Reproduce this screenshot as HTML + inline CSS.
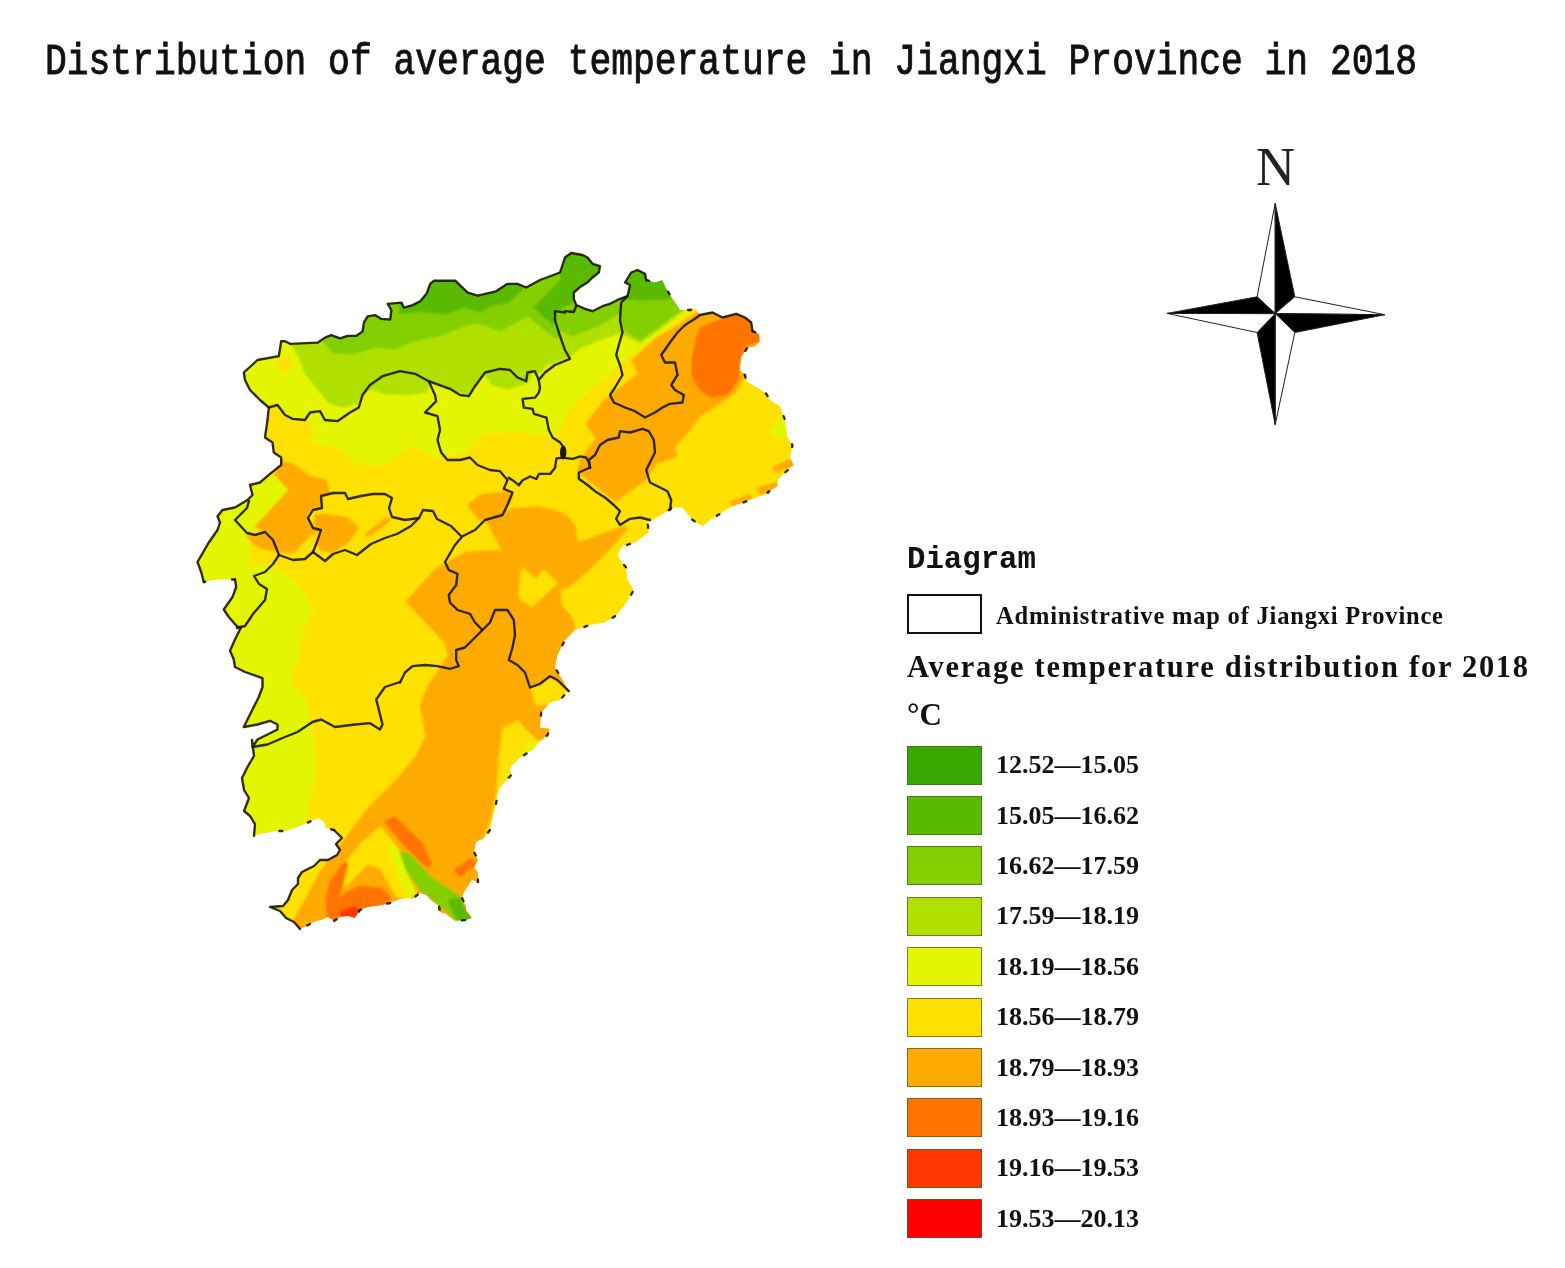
<!DOCTYPE html>
<html lang="en">
<head>
<meta charset="utf-8">
<title>Distribution of average temperature in Jiangxi Province in 2018</title>
<style>
html,body{margin:0;padding:0;background:#fff;}
body{width:1565px;height:1268px;position:relative;overflow:hidden;font-family:"Liberation Serif",serif;color:#111;}
#map{position:absolute;left:0;top:0;}
.title{position:absolute;left:45px;top:36.7px;font-family:"Liberation Mono",monospace;font-size:44px;line-height:50px;
 white-space:pre;transform-origin:0 0;transform:scaleX(0.8248);font-weight:normal;-webkit-text-stroke:0.95px #111;color:#111;}
.n{position:absolute;left:1256px;top:137px;font-size:54px;line-height:60px;font-family:"Liberation Serif",serif;color:#222;}
.diag{position:absolute;left:907px;top:541.5px;font-family:"Liberation Mono",monospace;font-weight:bold;font-size:31px;
 line-height:36px;white-space:pre;transform-origin:0 0;transform:scaleX(0.99);}
.adm{position:absolute;left:907px;top:594px;width:71px;height:36px;border:2px solid #111;background:#fff;}
.admt{position:absolute;left:996px;top:601.3px;font-weight:bold;font-size:24.5px;line-height:30px;white-space:pre;letter-spacing:0.8px;}
.avg{position:absolute;left:907px;top:648px;font-weight:bold;font-size:30.5px;line-height:38px;white-space:pre;letter-spacing:1.72px;}
.degc{position:absolute;left:907px;top:696px;font-weight:bold;font-size:31px;line-height:38px;white-space:pre;}
.sw{position:absolute;left:907px;width:73px;height:37px;border:1px solid rgba(90,90,40,.75);}
.lab{position:absolute;left:996px;font-weight:bold;font-size:26px;line-height:32px;white-space:pre;}
</style>
</head>
<body>
<div class="title">Distribution of average temperature in Jiangxi Province in 2018</div>
<svg id="map" width="1565" height="1268" viewBox="0 0 1565 1268">
<defs><clipPath id="prov"><polygon points="300,929 294,922 286,918 280,911 270,907 283,906 288,900 292,890 298,884 298,878 302,872 314,866 320,860 328,860 337,855 340,850 336,844 342,838 334,830 326,828 324,822 318,818 300,826 286,831 276,831 260,834 254,836 255,824 250,816 244,811 249,798 244,790 242,778 248,766 254,756 252,740 252.5,747 257.5,739.5 267.5,734.5 277.5,729.5 277.5,724.5 270,720.8 257.5,724.5 243.8,727 252.5,709.5 258.8,697 262.5,687 262.5,678.2 245,672 235,667 233.8,659.5 230,650.8 235,639.5 241.2,627 237.5,627 228.8,617 223.8,609.5 232.5,597 236.2,587 235,579.5 217.5,579.5 203.8,582 201.2,572 197.5,562 203.8,551.2 208.8,542.5 217.5,530 220,522.5 217.5,516.2 222.5,510 235,507.5 247.5,500 252.5,495 250,485 260,482.5 270,473.8 281.2,465 281.2,457.5 273.8,452.5 272.5,442.5 265,437.5 267.5,420 268.8,407.5 260,400 250,390 245,380 243.8,372.5 257.5,360 278.8,356.2 281.2,341.2 285,341.2 290,343.8 317.5,342.7 325,337.6 331.3,335.1 340.1,338.3 347.6,335.8 356.4,335.8 362.6,331.4 363.9,322.6 367.6,316.4 375.1,315.1 381.4,318.9 390.2,319.5 391.4,310.1 387.7,303.8 401.4,302.6 403.9,307.6 412.7,305.1 420.2,301.3 426.5,293.8 430.2,283.8 434,280.7 455.3,280.7 461.6,286.9 467.8,292.6 477.8,295.7 496,291.3 507.5,283.8 517.5,283.8 526.2,287.5 540,280 560,272.5 565,257.5 571.2,253 582.5,255 587.5,257.5 592.5,263.8 600,266.2 598.8,272.5 592.5,277.5 587.5,282.5 581.2,286.2 573.8,292.5 573.8,298.8 576.2,305 585,308.8 592.5,311.2 602.5,306.2 610,303.8 620,298.8 627.5,296.2 630,285 625,282.5 631.2,272.5 637.5,270 645,273.8 646.2,280 655,282.5 662.5,280 665,286.2 670,295 676.2,303.8 680,310 690,310 695,308.8 700,315 712.5,312.5 722.5,317.5 736.2,313.8 745,317.5 751.2,322.5 752.5,331.2 752.5,331.2 758.8,333.8 760,341.2 755,346.2 747.5,347.5 741.2,357.5 740,370 745,375 746.2,381.2 757.5,387.5 766.2,393.8 770,400 780,406.2 785,420 787.5,437.5 792.5,445 790,457.5 793.8,465 785,472.5 777.5,480 777.5,486.2 767.5,492.5 770,492.5 750,500 730,507.5 710,520 702.5,526.2 692.5,520 682.5,507.5 672.5,507.5 665,512.5 655,518.8 647.5,522.5 648.8,532.5 635,542.5 622.5,546.2 617.5,555 620,560 626.2,567.5 627.5,580 633.8,590 625,605 615,616.2 605,622.5 590,625 575,630 565,640 557.5,655 555,667.5 562.5,680 568.8,690 560,700 550,702.5 541.2,712.5 540,727.5 550,728.8 547.5,735 538.8,742.5 532.5,750 520,757.5 510,767.5 511.2,775 500,787.5 498,792 496,804 492,820 490,830 484,838 476,842 474,852 478,860 474,868 478,872 478,882 472,880 464,892 462,898 466,906 466,910 472,918 466,920 455,921 446,914 440,912 439,906 432,901 426,895 420,893 412,899 406,898 400,899 390,903 382,905 376,906 368,907 360,910 355,918 348,916 340,917 334,921 328,917 322,920 316,921 308,925 300,929"/></clipPath><filter id="bl" x="-5%" y="-5%" width="110%" height="110%"><feGaussianBlur stdDeviation="1.3"/></filter><filter id="bl2" x="-5%" y="-5%" width="110%" height="110%"><feGaussianBlur stdDeviation="0.45"/></filter></defs>
<g clip-path="url(#prov)"><g filter="url(#bl)" stroke-linejoin="round">
<rect x="100" y="170" width="800" height="840" fill="#FFE100"/>
<polygon fill="#E4F500" stroke="#E4F500" stroke-width="1" points="245,403 275,405 289,417 305,419 313,425 313,443 337,447 357,463 385,465 411,445 435,457 465,453 484,433 520,431 556,437 568,411 588,391 608,375 634,353 644,345 662,333 692,309 900,100 100,100 100,200"/>
<polygon fill="#E4F500" stroke="#E4F500" stroke-width="1" points="289,488 276,476 245,486 165,500 165,640 220,832 300,832 306,820 310,800 316,770 314,740 306,700 290,680 297,660 303,632 313,608 297,584 277,568 251,564 247,534 255,528 271,508"/>
<polygon fill="#B0E000" stroke="#B0E000" stroke-width="1" points="289,341 299,357 305,373 317,389 329,403 343,407 359,403 365,393 371,389 385,394 405,395 427,392 430,383 450,389 468,395 476,385 484,373 492,385 508,389 528,383 532,373 540,373 546,365 560,361 572,355 580,348 600,340 620,333 640,343 660,329 686,309 900,100 100,100 100,200"/>
<polygon fill="#83CF00" stroke="#83CF00" stroke-width="1" points="321,339 333,353 355,354 375,347 395,349 415,341 441,335 465,326 476,323 484,325 500,331 528,316 546,331 557,339 560,330 572,336 600,325 620,313 623,329 640,340 660,326 682,309 900,100 100,100 100,200"/>
<polygon fill="#5ABA00" stroke="#5ABA00" stroke-width="1" points="400,265 400,314 420,311 446,314 464,307 480,312 492,305 508,303 524,288 524,265"/>
<polygon fill="#5ABA00" stroke="#5ABA00" stroke-width="1" points="534,307 546,295 560,281 562,265 566,249 586,249 606,265 592,283 576,295 572,303 556,311 554,325 544,317"/>
<polygon fill="#5ABA00" stroke="#5ABA00" stroke-width="1" points="620,299 620,281 638,265 668,275 674,295 668,299 640,300"/>
<polygon fill="#FFAA00" stroke="#FFAA00" stroke-width="1" points="281.4,461.3 292.7,463.8 310.2,476.3 326.5,480.1 329,492.6 321.5,495.1 322.8,507.6 311.5,510.1 307.7,517.6 312.7,527.7 321.5,530.2 310.2,535.2 294,552.7 280.2,552.7 272.7,540.2 265.2,532.7 255.1,526.4 288.9,490.1 274.5,474.4"/>
<polygon fill="#FFAA00" stroke="#FFAA00" stroke-width="1" points="315.2,515.1 322.8,513.9 347.8,517.6 359.1,527.7 347.8,542.7 332.8,552.7 320.3,550.2 316.5,540.2 321.5,530.2 314,527.7"/>
<polygon fill="#FFAA00" stroke="#FFAA00" stroke-width="1" points="246.4,535.2 255.1,537.1 265.2,533.3 272.7,540.2 277,551.5 271.4,550.2 261.4,548.3 252.6,543.3"/>
<polygon fill="#FFAA00" stroke="#FFAA00" stroke-width="1" points="365,534 387,517 391,520 369,537"/>
<polygon fill="#FFAA00" stroke="#FFAA00" stroke-width="1" points="480,495 508.8,491.3 512.6,497.5 505,510.1 496.3,516.3 480,521.3 467.5,505"/>
<polygon fill="#FFAA00" stroke="#FFAA00" stroke-width="1" points="700,310 680,324 656,338 632,360 638,374 620,388 604,400 586,424 596,438 580,460 578,472 588,480 616,502 626,494 646,480 656,464 678,456 674,448 692,428 700,416 720,404 736,392 764,340 760,310"/>
<polygon fill="#FFAA00" stroke="#FFAA00" stroke-width="1" points="486.3,521.3 511.3,508.8 536.4,506.9 555.1,510.1 567.7,516.3 575.2,526.3 577.7,542.6 599,535.1 624,526.3 627.8,528.8 605.2,553.9 587.7,571.4 567.7,587.7 560.2,590.2 561.4,605.2 572.7,617.8 575.2,627.8 570.2,638 605.2,642.8 600,705 550,737.5 538.8,741.2 517.5,720 502,728 498,760 496,792 490,820 484,836 490,940 280,940 294,920 320,872 344,840 368,808 396,780 416,756 426,736 420,706 428,686 428,686 448,656 446,644 406,602 434,570 466,552 502,550"/>
<polygon fill="#FFE100" stroke="#FFE100" stroke-width="1" points="518.8,595.2 521.3,570.2 523.8,568.3 535.1,578.9 543.9,570.2 557.6,582.7 532.6,606.5 521.3,600.2"/>
<polygon fill="#FFAA00" stroke="#FFAA00" stroke-width="1" points="772,468 792,458 794,466 776,472"/>
<polygon fill="#FFAA00" stroke="#FFAA00" stroke-width="1" points="756,488 778,482 778,490 760,494"/>
<polygon fill="#FFAA00" stroke="#FFAA00" stroke-width="1" points="730,502 750,494 752,498 734,506"/>
<polygon fill="#E4F500" stroke="#E4F500" stroke-width="1" points="770,432 776,420 786,418 788,436 778,440"/>
<polygon fill="#FF7300" stroke="#FF7300" stroke-width="1" points="700,328 712,323 736,314 752,318 752,332 762,334 758,342 746,346 740,360 738,380 728,394 712,398 700,390 692,376 692,360 696,340"/>
<polygon fill="#FFE100" stroke="#FFE100" stroke-width="1" points="280,912 300,880 320,866 306,896 292,920"/>
<polygon fill="#FFE100" stroke="#FFE100" stroke-width="1" points="348,860 360,844 380,827 392,840 400,852 406,872 414,892 408,900 396,896 380,868 368,864 344,888 341,880"/>
<polygon fill="#E4F500" stroke="#E4F500" stroke-width="1" points="388,844 400,852 406,872 416,892 410,900 400,880 392,860"/>
<polygon fill="#FF7300" stroke="#FF7300" stroke-width="1" points="330,882 344,862 348,864 342,888 336,904 328,920 326,900"/>
<polygon fill="#FF7300" stroke="#FF7300" stroke-width="1" points="334,904 344,894 360,886 380,888 390,896 388,908 368,910 352,920 330,920"/>
<polygon fill="#FF3700" stroke="#FF3700" stroke-width="1" points="340,912 354,906 360,910 354,920 342,920"/>
<polygon fill="#FF7300" stroke="#FF7300" stroke-width="1" points="384.5,821.9 394.6,816.5 422.1,842.6 431.5,863.9 429,867.6 424,865.1 403.9,845.1"/>
<polygon fill="#83CF00" stroke="#83CF00" stroke-width="1" points="400,852 410,854 432,878 460,896 466,910 474,920 458,922 440,906 420,890 406,870"/>
<polygon fill="#5ABA00" stroke="#5ABA00" stroke-width="1" points="448,900 460,898 466,910 474,920 458,922"/>
<polygon fill="#FF7300" stroke="#FF7300" stroke-width="1" points="454,870 472,858 476,864 460,877"/>
<polygon fill="#FFE100" stroke="#FFE100" stroke-width="1" points="531.2,688.8 550,677.5 570,691.2 560,701.2 547.5,703.8 536.2,705"/>
<polygon fill="#E4F500" stroke="#E4F500" stroke-width="1" points="540,740 526,748 514,764 506,780 516,784 530,760 544,746"/>
<polygon fill="#FFE100" stroke="#FFE100" stroke-width="1" points="280.1,357.6 288.9,356.3 293.9,363.8 286.4,371.3 276.3,369.5"/>
</g></g>
<g fill="none" stroke="#1a1600" stroke-opacity="0.9" stroke-width="2.35" stroke-linejoin="round" stroke-linecap="round" filter="url(#bl2)">
<polyline points="300,929 294,922 286,918 280,911 270,907 283,906 288,900 292,890 298,884 298,878 302,872 314,866 320,860 328,860 337,855 340,850 336,844 342,838 334,830"/>
<polyline stroke-dasharray="3 27" points="334,830 326,828 324,822 318,818 300,826 286,831 276,831 260,834 254,836"/>
<polyline points="254,836 255,824 250,816 244,811 249,798 244,790 242,778 248,766 254,756 252,740 252.5,747 257.5,739.5 267.5,734.5 277.5,729.5 277.5,724.5 270,720.8 257.5,724.5 243.8,727 252.5,709.5 258.8,697 262.5,687 262.5,678.2 245,672 235,667 233.8,659.5 230,650.8 235,639.5 241.2,627 237.5,627 228.8,617 223.8,609.5 232.5,597 236.2,587 235,579.5"/>
<polyline stroke-dasharray="3 27" points="235,579.5 217.5,579.5 203.8,582"/>
<polyline points="203.8,582 201.2,572 197.5,562 203.8,551.2 208.8,542.5 217.5,530 220,522.5 217.5,516.2 222.5,510 235,507.5 247.5,500 252.5,495 250,485 260,482.5 270,473.8 281.2,465 281.2,457.5 273.8,452.5 272.5,442.5 265,437.5 267.5,420 268.8,407.5 260,400 250,390 245,380 243.8,372.5 257.5,360 278.8,356.2 281.2,341.2 285,341.2 290,343.8 317.5,342.7 325,337.6 331.3,335.1 340.1,338.3 347.6,335.8 356.4,335.8 362.6,331.4 363.9,322.6 367.6,316.4 375.1,315.1 381.4,318.9 390.2,319.5 391.4,310.1 387.7,303.8 401.4,302.6 403.9,307.6 412.7,305.1 420.2,301.3 426.5,293.8 430.2,283.8 434,280.7 455.3,280.7 461.6,286.9 467.8,292.6 477.8,295.7 496,291.3 507.5,283.8 517.5,283.8 526.2,287.5 540,280 560,272.5 565,257.5 571.2,253 582.5,255 587.5,257.5 592.5,263.8 600,266.2 598.8,272.5 592.5,277.5 587.5,282.5 581.2,286.2 573.8,292.5 573.8,298.8 576.2,305 585,308.8 592.5,311.2 602.5,306.2 610,303.8 620,298.8 627.5,296.2 630,285 625,282.5 631.2,272.5 637.5,270 645,273.8 646.2,280"/>
<polyline stroke-dasharray="3 27" points="646.2,280 655,282.5 662.5,280 665,286.2 670,295 676.2,303.8 680,310 690,310 695,308.8 700,315"/>
<polyline points="700,315 712.5,312.5 722.5,317.5 736.2,313.8 745,317.5 751.2,322.5 752.5,331.2"/>
<polyline stroke-dasharray="3 27" points="752.5,331.2 758.8,333.8 760,341.2 755,346.2 747.5,347.5 741.2,357.5 740,370 745,375 746.2,381.2 757.5,387.5 766.2,393.8 770,400 780,406.2 785,420 787.5,437.5 792.5,445 790,457.5 793.8,465 785,472.5 777.5,480 777.5,486.2 767.5,492.5 770,492.5 750,500 730,507.5 710,520 702.5,526.2 692.5,520 682.5,507.5 672.5,507.5 665,512.5 655,518.8 647.5,522.5 648.8,532.5 635,542.5 622.5,546.2 617.5,555 620,560 626.2,567.5 627.5,580 633.8,590 625,605 615,616.2 605,622.5 590,625 575,630 565,640 557.5,655 555,667.5 562.5,680 568.8,690 560,700 550,702.5 541.2,712.5 540,727.5 550,728.8 547.5,735 538.8,742.5 532.5,750 520,757.5 510,767.5 511.2,775 500,787.5 498,792 496,804 492,820 490,830 484,838 476,842 474,852 478,860 474,868 478,872 478,882 472,880 464,892 462,898 466,906 466,910 472,918 466,920 455,921 446,914 440,912 439,906 432,901 426,895 420,893 412,899 406,898 400,899 390,903 382,905 376,906 368,907 360,910 355,918 348,916 340,917 334,921 328,917 322,920 316,921 308,925 300,929"/>
<polyline points="268.8,407.5 277.5,405 285,415 292.5,418.8 305,420 310,412.5 320,411.2 325,420 337.5,421.2 350,412.5 358.8,407.5 362.5,395 370,385 382.5,376.2 400,371.2 415,373.8 428.8,381.2 450,388.8 460,395 468.8,396.2 475,386.2 485,372.5 500,368.8 510,370 517.5,377.5 526.2,381.2 527.5,372.5 535,371.2 538.8,380 545,372.5 555,365 570,358.8 565,350 558.8,332.5 555,320 555,311.2 565,312.5 565,311.2 573.8,312 576.2,306.2"/>
<polyline points="538.75,380 540,388 538.9,392.5 535.1,397.6 522.6,398.8 523.8,407.6 532.6,408.8 533.9,413.8 546.4,417.6 548.9,430.1 552.6,437.6 560.2,442.6 563.9,447.6 562.7,457.7 556.4,458.5 555.1,467.7 550.1,473.9 538.9,473.9 536.4,479 530.1,476.5 522.6,480.2 518.8,485.2 512.6,480.2 508.8,477.7"/>
<polyline points="428.8,381.2 435,395 436.2,401.2 425,412.5 437.5,416.2 440,430 437.5,440 441.2,452.5 447.5,460 460,460 470,457.5 477.5,465 490,470 500,471.2 507.5,480 503.8,488.8 512.5,492.5 507.5,505 502.5,515 485,520 475,530 462.5,536.2 455,545 445,562 448.8,570 457.5,573.8 456.2,585 448.8,595 450,602.5 457.5,610 470,613.8 475,622.5 482.5,630"/>
<polyline points="249,501 247,508 235,520 247,533 255,535 265,532 273,540 279,555 273,564 265,572 254,576 259,584 267,589 265,600 253,614 245,626 237,628"/>
<polyline points="279,555 293,560 305,559 313,552 317,542 321,530 313,528 308,518 313,510 322,508 321,496 333,493 345,493 348,499 361,496 373,494 385,494 392,498 389,508 392,517 405,520 419,518 423,510 433,511 437,519 451,526 461,536"/>
<polyline points="313,552 325,561 333,554 345,550 357,555 371,544 385,538 397,534 411,526 419,518"/>
<polyline points="627.5,296.2 621.2,302.5 620,320 622.5,332.5 618.8,345 616.2,355 620,365 622.5,375 615,387.5 610,395 613.8,402.5 625,407.5 635,411.2 645,417.5 655,412.5 662.5,407.5 670,403.8 682.5,402.5 683.8,395 675,390 671.2,385 677.5,375 675,362.5 665,362.5 661.2,355 670,342.5 677.5,332.5 685,325 695,318.8 700,315"/>
<polyline points="670,510 671.2,500 667.5,491.2 660,487.5 650,482.5 646.2,470 650,462.5 655,452.5 653.8,440 648.8,431.2 642.5,428.8 630,432.5 620,431.2 618.8,437.5 607.5,440 600,445 595,455 588.8,460 590,467.5 578.8,472.5 578.8,478.8 587.5,485 595,491.2 605,497.5 613.8,505 620,511.2 616.2,518.8 620,525 630,518.8 640,517.5 650,520"/>
<polyline points="562.7,457.7 572.7,458.9 580.2,456.4 586.4,457.7 589,462.7 590.2,468"/>
<polyline points="482.5,630 472.5,640 465,647.5 456.2,650 456.2,660 458.8,666.2 450,668.8 437.5,666.2 425,665 412.5,666.2 405,672.5 400,682.5"/>
<polyline points="482.5,630 490,622.5 495,610 507.5,610 513.8,620 515,635 512.5,647.5 508.8,660 517.5,665 525,672.5 530,687.5 540,683.8 550,676.2 557.5,680 565,687.5 568.8,691.2"/>
<polyline points="252.5,747 267.5,744.5 285,737 297.5,732 312.5,722 321.2,719.5 335,727 355,724.5 370,723.2 380,729.5 382.5,724.5 378.8,709.5 376.2,699.5 385,687 400,682"/>
<ellipse cx="563.2" cy="452.5" rx="3.2" ry="7" fill="#1a1600" stroke="none"/>
</g>
<g stroke-linejoin="miter">
<polygon points="1275.2,313.6 1275.2,203.4 1257.1,296.8" fill="#fff" stroke="#222" stroke-width="1"/>
<polygon points="1275.2,313.6 1275.2,203.4 1294.8,296.8" fill="#000" stroke="#222" stroke-width="1"/>
<polygon points="1275.2,313.6 1384.8,314.7 1294.8,296.8" fill="#fff" stroke="#222" stroke-width="1"/>
<polygon points="1275.2,313.6 1384.8,314.7 1294.8,332.5" fill="#000" stroke="#222" stroke-width="1"/>
<polygon points="1275.2,313.6 1275.2,424.7 1294.8,332.5" fill="#fff" stroke="#222" stroke-width="1"/>
<polygon points="1275.2,313.6 1275.2,424.7 1257.1,332.5" fill="#000" stroke="#222" stroke-width="1"/>
<polygon points="1275.2,313.6 1167.1,313.4 1257.1,332.5" fill="#fff" stroke="#222" stroke-width="1"/>
<polygon points="1275.2,313.6 1167.1,313.4 1257.1,296.8" fill="#000" stroke="#222" stroke-width="1"/>
</g>
</svg>
<div class="n">N</div>
<div class="diag">Diagram</div>
<div class="adm"></div>
<div class="admt">Administrative map of Jiangxi Province</div>
<div class="avg">Average temperature distribution for 2018</div>
<div class="degc">°C</div>
<div class="sw" style="top:745.7px;background:#38A800"></div>
<div class="lab" style="top:749.3px">12.52—15.05</div>
<div class="sw" style="top:796.1px;background:#5ABA00"></div>
<div class="lab" style="top:799.7px">15.05—16.62</div>
<div class="sw" style="top:846.4px;background:#83CF00"></div>
<div class="lab" style="top:850.0px">16.62—17.59</div>
<div class="sw" style="top:896.8px;background:#B0E000"></div>
<div class="lab" style="top:900.4px">17.59—18.19</div>
<div class="sw" style="top:947.1px;background:#E4F500"></div>
<div class="lab" style="top:950.7px">18.19—18.56</div>
<div class="sw" style="top:997.5px;background:#FFE100"></div>
<div class="lab" style="top:1001.1px">18.56—18.79</div>
<div class="sw" style="top:1047.9px;background:#FFAA00"></div>
<div class="lab" style="top:1051.5px">18.79—18.93</div>
<div class="sw" style="top:1098.2px;background:#FF7300"></div>
<div class="lab" style="top:1101.8px">18.93—19.16</div>
<div class="sw" style="top:1148.6px;background:#FF3700"></div>
<div class="lab" style="top:1152.2px">19.16—19.53</div>
<div class="sw" style="top:1198.9px;background:#FF0000"></div>
<div class="lab" style="top:1202.5px">19.53—20.13</div>
</body>
</html>
